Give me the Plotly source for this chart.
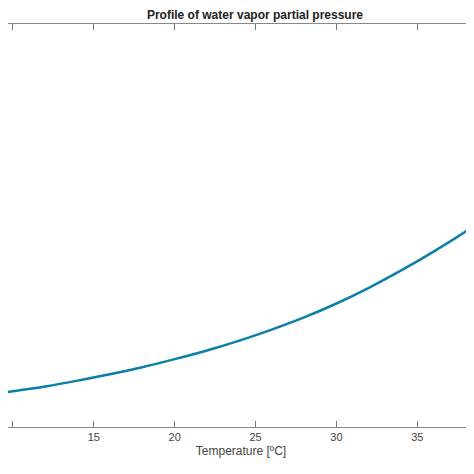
import plotly.graph_objects as go

temperature = [9.2, 10, 12, 14, 16, 18, 20, 22, 24, 26, 28, 30, 32, 34, 36, 38, 38.6]
pressure = [1.16, 1.23, 1.40, 1.60, 1.82, 2.06, 2.34, 2.64, 2.98, 3.36, 3.78, 4.26, 4.80, 5.40, 6.05, 6.75, 7.0]
x_ticks = [10, 15, 20, 25, 30, 35]

fig = go.Figure(go.Scatter(x=temperature, y=pressure, mode="lines", line=dict(color="#0a7fa8", width=2.5, shape="spline")))
fig.update_layout(
    width=466, height=466, plot_bgcolor="white", paper_bgcolor="white",
    margin=dict(l=0, r=0, t=16, b=47, pad=0), showlegend=False,
    title=dict(text="<b>Profile of water vapor partial pressure</b>", x=0.53, y=0.995, xanchor="center", yanchor="top",
               font=dict(family="Liberation Sans, Arial", size=12, color="#222")),
    font=dict(family="Liberation Sans, Arial", size=11, color="#444"),
)
fig.update_xaxes(range=[9.7, 38.5], tickvals=x_ticks, ticks="inside", ticklen=6, tickcolor="#777",
                 showline=True, linecolor="#888", mirror="ticks", showgrid=False, zeroline=False,
                 title=dict(text="Temperature [ºC]", font=dict(size=12, color="#444"), standoff=4))
fig.update_yaxes(range=[0, 13.9], visible=False)
fig.write_html("out.html")
